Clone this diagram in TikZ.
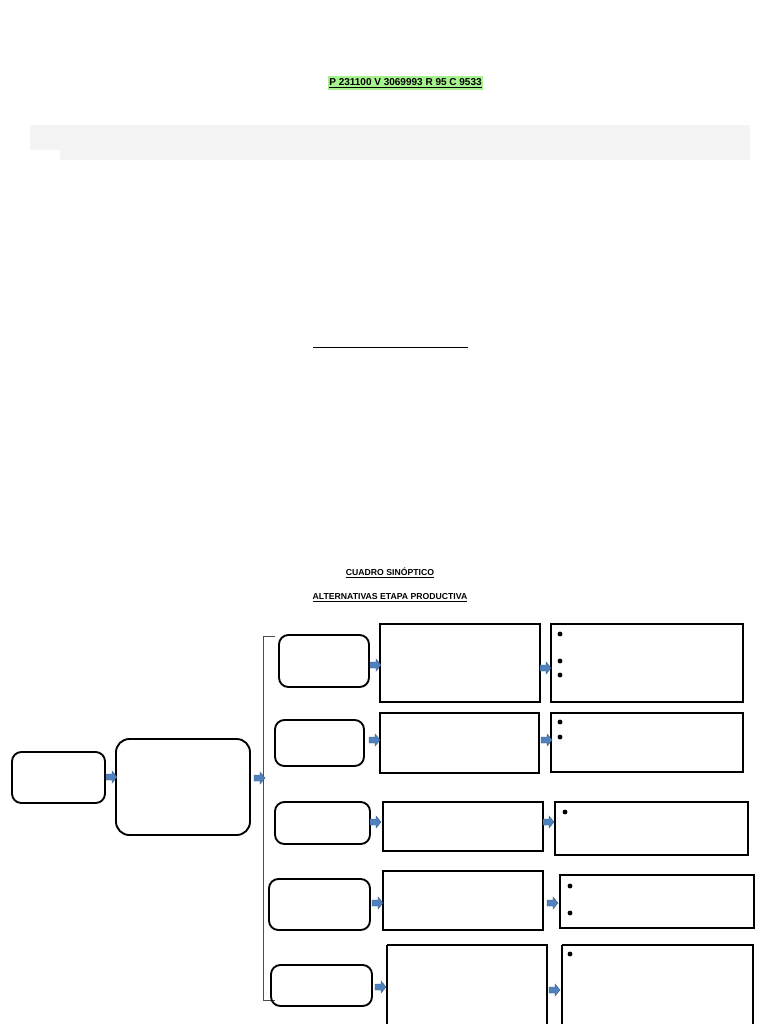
\documentclass[tikz,border=0pt]{standalone}
\usepackage{fontspec}
\setmainfont{Liberation Sans}
\definecolor{barrow}{HTML}{4F81BD}
\definecolor{hl}{HTML}{A6F28E}
\definecolor{band}{HTML}{F4F4F4}
\begin{document}
\begin{tikzpicture}[x=0.75pt,y=-0.75pt,
  rbox/.style={draw,line width=1.4pt,rounded corners=7pt},
  sbox/.style={draw,line width=0.8pt},
  barr/.style={fill=barrow,draw=barrow!70!black,line width=0.3pt},
  bul/.style={circle,fill,inner sep=1.3pt}]
\useasboundingbox (0,0) rectangle (768,1024);
\fill[white] (0,0) rectangle (768,1024);
% header
\fill[hl] (328,76) rectangle (483,90);
\node[font=\bfseries\fontsize{7.5}{8}\selectfont] (hdr) at (405.5,83) {\underline{P 231100 V 3069993 R 95 C 9533}};
\fill[band] (30,125) rectangle (750,160);
\fill[white] (30,150) rectangle (60,160);
\draw[line width=0.6pt] (313,347) -- (468,347);
\node[font=\bfseries\fontsize{6.5}{7}\selectfont] (t1) at (390,573) {\underline{CUADRO SINÓPTICO}};
\node[font=\bfseries\fontsize{6.5}{7}\selectfont] (t2) at (390,598) {\underline{ALTERNATIVAS ETAPA PRODUCTIVA}};
% left boxes
\draw[rbox] (12,752) rectangle (105,803);
\draw[rbox,rounded corners=10pt] (116,739) rectangle (250,835);
\draw[line width=0.6pt,gray!60!black] (275,636) -- (263,636) -- (263,1000) -- (275,1000);
% rows
\draw[rbox] (279,635) rectangle (369,687);
\draw[sbox] (380,624) rectangle (540,702);
\draw[sbox] (551,624) rectangle (743,702);
\draw[rbox] (275,720) rectangle (364,766);
\draw[sbox] (380,713) rectangle (539,773);
\draw[sbox] (551,713) rectangle (743,772);
\draw[rbox] (275,802) rectangle (370,844);
\draw[sbox] (383,802) rectangle (543,851);
\draw[sbox] (555,802) rectangle (748,855);
\draw[rbox] (269,879) rectangle (370,930);
\draw[sbox] (383,871) rectangle (543,930);
\draw[sbox] (560,875) rectangle (754,928);
\draw[rbox] (271,965) rectangle (372,1006);
\draw[sbox] (387,945) -- (387,1030) (387,945) -- (547,945) -- (547,1030);
\draw[sbox] (562,945) -- (562,1030) (562,945) -- (753,945) -- (753,1030);
% bullets
\foreach \n/\x/\y in {b1/560/634,b2/560/661,b3/560/675,b4/560/722,b5/560/737,b6/565/812,b7/570/886,b8/570/913,b9/570/954}
  \node[bul] (\n) at (\x,\y) {};
% block arrows (x = left end, y = centre)
\foreach \x/\y in {106/777,254/778,370/665,540/668,369/740,541/740,370/822,543/822,372/903,547/903,375/987,549/990}
  \draw[barr] (\x,\y-3) -- ++(6,0) -- ++(0,-3) -- ++(5,6) -- ++(-5,6) -- ++(0,-3) -- ++(-6,0) -- cycle;
\end{tikzpicture}
\end{document}
